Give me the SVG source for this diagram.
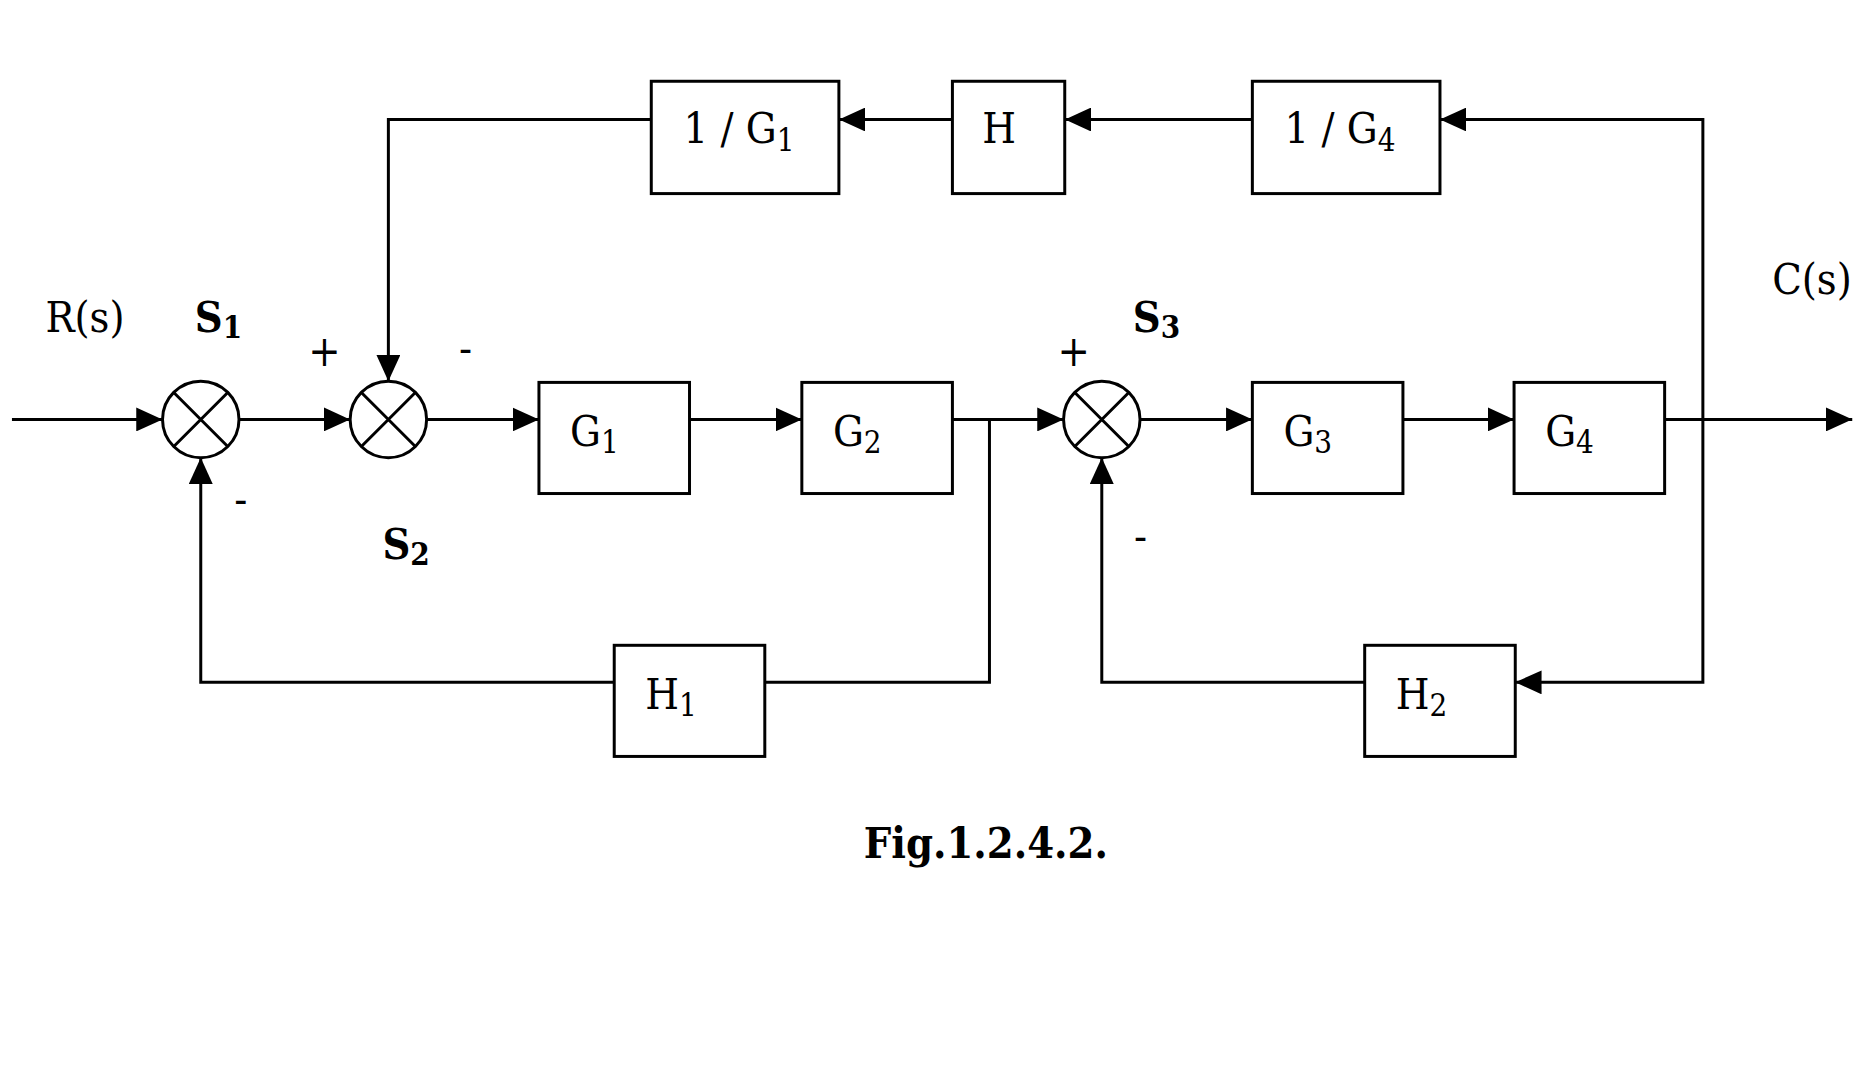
<svg xmlns="http://www.w3.org/2000/svg" width="1872" height="1074" viewBox="0 0 1872 1074">
<style>
text{font-family:"DejaVu Serif Condensed","DejaVu Serif","Liberation Serif",serif;font-stretch:condensed;font-size:36px;fill:#000}
.b{font-weight:bold}
.box{fill:#fff;stroke:#000;stroke-width:2.5}
.sum{fill:#fff;stroke:#000;stroke-width:2.5}
.w{fill:none;stroke:#000;stroke-width:2.5}
.s{font-size:26px}
</style>
<defs>
<marker id="ar" markerWidth="22" markerHeight="20" refX="22" refY="10" orient="auto" markerUnits="userSpaceOnUse"><path d="M0,0L22,10L0,20z" fill="#000"/></marker></defs>
<rect width="1872" height="1074" fill="#fff"/>
<g transform="scale(1.195)">
<g id="connectors">
<path class="w" d="M10,351H136" marker-end="url(#ar)"/>
<path class="w" d="M200,351H293" marker-end="url(#ar)"/>
<path class="w" d="M357,351H451" marker-end="url(#ar)"/>
<path class="w" d="M577,351H671" marker-end="url(#ar)"/>
<path class="w" d="M797,351H890" marker-end="url(#ar)"/>
<path class="w" d="M828,351V571H640"/>
<path class="w" d="M514,571H168V383" marker-end="url(#ar)"/>
<path class="w" d="M954,351H1048" marker-end="url(#ar)"/>
<path class="w" d="M1174,351H1267" marker-end="url(#ar)"/>
<path class="w" d="M1393,351H1550" marker-end="url(#ar)"/>
<path class="w" d="M1425,351V100H1205" marker-end="url(#ar)"/>
<path class="w" d="M1425,351V571H1268" marker-end="url(#ar)"/>
<path class="w" d="M1142,571H922V383" marker-end="url(#ar)"/>
<path class="w" d="M1048,100H891" marker-end="url(#ar)"/>
<path class="w" d="M797,100H702" marker-end="url(#ar)"/>
<path class="w" d="M545,100H325V319" marker-end="url(#ar)"/>
</g>
<g id="S1"><circle class="sum" cx="168" cy="351" r="32"/><path class="w" d="M145.4,328.4L190.6,373.6M190.6,328.4L145.4,373.6"/></g>
<g id="S2"><circle class="sum" cx="325" cy="351" r="32"/><path class="w" d="M302.4,328.4L347.6,373.6M347.6,328.4L302.4,373.6"/></g>
<g id="S3"><circle class="sum" cx="922" cy="351" r="32"/><path class="w" d="M899.4,328.4L944.6,373.6M944.6,328.4L899.4,373.6"/></g>
<g id="G1"><rect class="box" x="451" y="320" width="126" height="93"/><text x="477" y="373">G<tspan class="s" dy="6">1</tspan></text></g>
<g id="G2"><rect class="box" x="671" y="320" width="126" height="93"/><text x="697" y="373">G<tspan class="s" dy="6">2</tspan></text></g>
<g id="G3"><rect class="box" x="1048" y="320" width="126" height="93"/><text x="1074" y="373">G<tspan class="s" dy="6">3</tspan></text></g>
<g id="G4"><rect class="box" x="1267" y="320" width="126" height="93"/><text x="1293" y="373">G<tspan class="s" dy="6">4</tspan></text></g>
<g id="H1"><rect class="box" x="514" y="540" width="126" height="93"/><text x="540" y="593">H<tspan class="s" dy="6">1</tspan></text></g>
<g id="H2"><rect class="box" x="1142" y="540" width="126" height="93"/><text x="1168" y="593">H<tspan class="s" dy="6">2</tspan></text></g>
<g id="invG1"><rect class="box" x="545" y="68" width="157" height="94"/><text x="572" y="120">1 / G<tspan class="s" dy="6">1</tspan></text></g>
<g id="H"><rect class="box" x="797" y="68" width="94" height="94"/><text x="822" y="120">H</text></g>
<g id="invG4"><rect class="box" x="1048" y="68" width="157" height="94"/><text x="1075" y="120">1 / G<tspan class="s" dy="6">4</tspan></text></g>
<text x="38" y="278">R(s)</text>
<text x="1483" y="246">C(s)</text>
<text class="b" x="163" y="278">S<tspan class="s" dy="5">1</tspan></text>
<text class="b" x="320" y="468">S<tspan class="s" dy="5">2</tspan></text>
<text class="b" x="948" y="278">S<tspan class="s" dy="5">3</tspan></text>
<text x="258" y="306">+</text>
<text x="885" y="306">+</text>
<text x="384" y="304">-</text>
<text x="196" y="430">-</text>
<text x="949" y="461">-</text>
<text class="b" x="825" y="718" text-anchor="middle">Fig.1.2.4.2.</text>
</g>
</svg>
